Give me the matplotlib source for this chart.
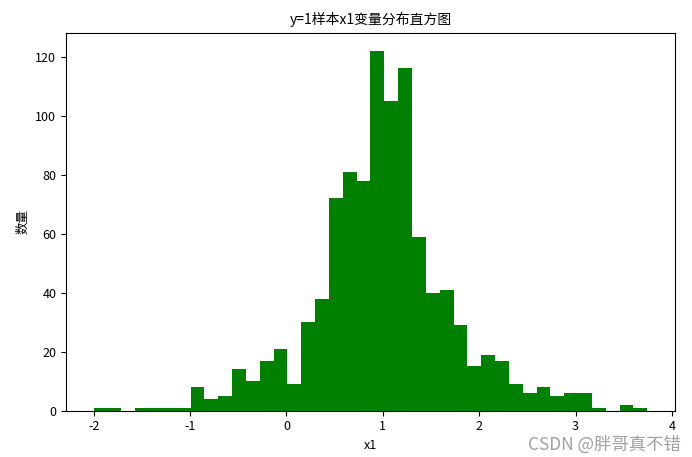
import numpy as np
import matplotlib
matplotlib.use("Agg")
import matplotlib.pyplot as plt

plt.rcParams['font.family'] = ['Noto Sans CJK SC', 'DejaVu Sans']
plt.rcParams['axes.unicode_minus'] = False

# histogram of x1 for y=1, 40 bins between min and max
x_min = -2.0
x_max = 3.745
n_bins = 40
counts = [1, 1, 0, 1, 1, 1, 1, 8, 4, 5,
          14, 10, 17, 21, 9, 30, 38, 72, 81, 78,
          122, 105, 116, 59, 40, 41, 29, 15, 19, 17,
          9, 6, 8, 5, 6, 6, 1, 0, 2, 1]

edges = np.linspace(x_min, x_max, n_bins + 1)
centers = (edges[:-1] + edges[1:]) / 2

fig = plt.figure(figsize=(6.92, 4.57), dpi=100)
ax = fig.add_axes([0.0954, 0.1013, 0.88, 0.8271])
ax.hist(centers, bins=edges, weights=counts, color='green')

ax.set_title("y=1样本x1变量分布直方图", fontsize=10)
ax.set_xlabel("x1", fontsize=9)
ax.set_ylabel("数量", fontsize=9)
ax.tick_params(labelsize=9)

# watermark
fig.text(0.984, 0.008, "CSDN @胖哥真不错", ha='right', va='bottom',
         fontsize=12.5, color='#a0a0a0')

fig.savefig("out.png", dpi=100)
